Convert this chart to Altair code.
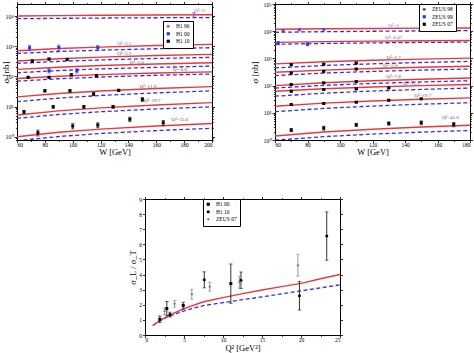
import altair as alt
import pandas as pd

FONT = "Liberation Serif"
RED = "#e8383d"
BLUE = "#3232dc"
PURPLE = "#a064c8"
LBLUE = "#6a5acd"
GRAY = "#555555"

# ---------------- Panel 1 (H1) ----------------
P1_W = [60, 90, 120, 160, 200]
P1_RED = [
    [10000, 10310, 10540, 10790, 10960],
    [708, 834, 935, 1050, 1148],
    [324, 384, 434, 489, 537],
    [170, 201, 228, 256, 282],
    [85.1, 101, 114, 129, 141],
    [20.9, 27.2, 32.8, 39.5, 45.7],
    [5.25, 7.21, 9.04, 11.3, 13.5],
    [1.0, 1.41, 1.79, 2.28, 2.75],
]
P1_BLUE = [
    [8130, 8380, 8570, 8770, 8910],
    [575, 667, 740, 822, 891],
    [269, 314, 351, 392, 427],
    [132, 156, 177, 199, 219],
    [69.2, 83.4, 95.1, 109, 120],
    [14.5, 19.1, 23.3, 28.4, 33.1],
    [4.07, 5.47, 6.75, 8.32, 9.77],
    [0.74, 1.02, 1.28, 1.60, 1.91],
]
P1_LABELS = ["Q²=0", "Q²=2.5", "Q²=3.3", "Q²=5.0", "Q²=6.6", "Q²=11.9", "Q²=19.7", "Q²=35.6"]
P1_LABEL_W = [191, 137, 137, 146, 177, 154, 157, 177]
P1_LABEL_SIGMA = [15700, 1260, 590, 295, 174, 47.6, 16.4, 3.86]

P1_SETS = ["H1 96", "H1 00", "H1 10"]
P1_H196_W = [187]
P1_H196_S = [11500]
P1_H196_E = [1800]
P1_H100_W = [69, 90, 118, 83, 103]
P1_H100_S = [890, 910, 890, 154, 154]
P1_H100_E = [180, 180, 180, 25, 25]
P1_H110_W = [71, 83, 96, 68, 83, 99, 117, 80, 98, 115, 133, 65, 86, 108, 129, 150, 75, 100, 118, 141, 165]
P1_H110_S = [322, 375, 365, 93, 93, 113, 105, 33.3, 33.3, 26, 34.5, 6.7, 9.8, 9.8, 9.8, 17.3, 1.36, 2.26, 2.44, 3.8, 2.9]
P1_H110_E = [30, 30, 30, 8, 8, 9, 9, 3, 3, 3, 3, 0.8, 1, 1, 1, 2.5, 0.3, 0.45, 0.45, 0.65, 0.55]

# ---------------- Panel 2 (ZEUS) ----------------
P2_W = [60, 90, 120, 150, 180]
P2_RED = [
    [11750, 12250, 12640, 12940, 13180],
    [3890, 4130, 4310, 4450, 4570],
    [631, 754, 857, 944, 1023],
    [309, 372, 425, 471, 513],
    [100, 127, 150, 171, 191],
    [61.7, 76.2, 88.7, 99.7, 110],
    [17.4, 22.6, 27.3, 31.5, 35.5],
    [1.41, 1.97, 2.49, 2.99, 3.47],
]
P2_BLUE = [
    [9120, 9590, 9950, 10230, 10470],
    [3310, 3550, 3720, 3860, 3980],
    [447, 548, 632, 708, 776],
    [234, 288, 332, 372, 407],
    [81.3, 102, 120, 136, 151],
    [40.7, 52.6, 63, 72.4, 81.3],
    [11.0, 14.5, 17.7, 20.7, 23.4],
    [0.98, 1.33, 1.65, 1.95, 2.24],
]
P2_LABELS = ["Q²=0", "Q²=0.47", "Q²=2.7", "Q²=5.0", "Q²=7.8", "Q²=11.9", "Q²=19.7", "Q²=41.0"]
P2_LABEL_W = [133, 133, 133, 131, 133, 144, 151, 168]
P2_LABEL_SIGMA = [17400, 6150, 1130, 550, 235, 120, 43.5, 6.8]

P2_SETS = ["ZEUS 98", "ZEUS 99", "ZEUS 07"]
P2_Z98_W = [65, 75, 90]
P2_Z98_S = [10500, 11200, 11800]
P2_Z98_E = [900, 900, 900]
P2_Z99_W = [62, 80]
P2_Z99_S = [3630, 3330]
P2_Z99_E = [450, 400]
P2_Z07_W = [70, 90, 110, 70, 90, 110, 70, 90, 110, 70, 90, 110, 130,
            70, 90, 110, 130, 150, 70, 90, 110, 130, 150, 170]
P2_Z07_S = [589, 617, 676, 290, 334, 407, 109, 126, 140, 62, 71.5, 75.5, 82,
            20.1, 21.9, 24.6, 29, 32.6, 2.32, 2.75, 3.64, 4.07, 4.31, 3.74]
P2_Z07_E = [35, 35, 40, 18, 20, 25, 7, 8, 9, 4, 4.5, 5, 5,
            1.3, 1.4, 1.6, 1.9, 2.1, 0.3, 0.45, 0.5, 0.55, 0.7, 0.7]

# ---------------- Panel 3 (sigma_L / sigma_T) ----------------
P3_Q2 = [1, 2, 3, 4, 5, 7.5, 10, 12.5, 15, 17.5, 20, 22.5, 25]
P3_RED = [0.63, 0.98, 1.27, 1.52, 1.75, 2.2, 2.47, 2.74, 2.98, 3.2, 3.42, 3.72, 4.0]
P3_BLUE = [0.63, 0.97, 1.22, 1.42, 1.6, 1.95, 2.14, 2.34, 2.52, 2.72, 2.92, 3.12, 3.32]
P3_SETS = ["H1 00", "H1 10", "ZEUS 07"]
P3_H100_Q = [1.9, 2.8, 4.9, 11.0]
P3_H100_R = [1.04, 1.75, 1.95, 3.4]
P3_H100_E = [0.22, 0.47, 0.22, 1.3]
P3_H110_Q = [3.2, 7.6, 12.3, 19.8, 23.3]
P3_H110_R = [1.35, 3.65, 3.62, 2.6, 6.55]
P3_H110_E = [0.16, 0.53, 0.55, 0.95, 1.6]
P3_Z07_Q = [2.5, 3.8, 6.0, 8.3, 12.1, 19.6]
P3_Z07_R = [1.57, 2.06, 2.7, 3.2, 3.5, 4.62]
P3_Z07_E = [0.22, 0.22, 0.33, 0.3, 0.4, 0.72]


def curves_df(xs, series):
    rows = []
    for i, ys in enumerate(series):
        for x, y in zip(xs, ys):
            rows.append({"x": x, "y": y, "curve": i})
    return pd.DataFrame(rows)


def points_df(xs, ys, es, name):
    return pd.DataFrame({
        "x": xs, "y": ys,
        "lo": [y - e for y, e in zip(ys, es)],
        "hi": [y + e for y, e in zip(ys, es)],
        "set": name,
    })


def log_ticks(lo, hi):
    vals = []
    for e in range(-1, 6):
        for m in range(1, 10):
            v = m * 10 ** e
            if lo <= v <= hi:
                vals.append(v)
    return vals


DEC_TEST = "abs(log(datum.value)/LN10 - round(log(datum.value)/LN10)) < 0.001"
SUP = "['⁰','¹','²','³','⁴','⁵']"


def log_axis(title, title_x, lo, hi):
    return alt.Axis(
        title=title, values=log_ticks(lo, hi),
        labelExpr=f"({DEC_TEST}) ? ('10' + {SUP}[round(log(datum.value)/LN10)]) : ''",
        tickSize={"condition": {"test": DEC_TEST, "value": 3}, "value": 1.6},
        labelOverlap=False, labelPadding=1, titleX=title_x, titleBaseline="middle",
        titleAngle=-90,
    )


def log_axis_right(lo, hi):
    return alt.Axis(
        orient="right", title=None, labels=False, values=log_ticks(lo, hi),
        tickSize={"condition": {"test": DEC_TEST, "value": 2.5}, "value": 1.3},
    )


def x_axis(title, values, major, title_y):
    test = f"datum.value % {major} == 0"
    return alt.Axis(
        title=title, values=values,
        labelExpr=f"({test}) ? datum.label : ''",
        tickSize={"condition": {"test": test, "value": 2.5}, "value": 1.4},
        labelOverlap=False, labelPadding=0, titleY=title_y, titleBaseline="middle",
        format="d", labelBaseline="top", labelFontSize=5.5, titleFontSize=8.5,
    )


def x_axis_top(values, major):
    test = f"datum.value % {major} == 0"
    return alt.Axis(
        orient="top", title=None, labels=False, values=values,
        tickSize={"condition": {"test": test, "value": 2.5}, "value": 1.3},
    )


def build_panel(xscale, xaxis, xaxis_top, yscale, yaxis, yaxis_right, red_df, blue_df,
                pt_dfs, sets, colors, shapes, legend, label_groups, red_w=1.4):
    Xm = alt.X("x:Q", scale=xscale, axis=xaxis)
    Ym = alt.Y("y:Q", scale=yscale, axis=yaxis)
    Xt = alt.X("x:Q", scale=xscale, axis=xaxis_top)
    Yr = alt.Y("y:Q", scale=yscale, axis=yaxis_right)
    X = alt.X("x:Q", scale=xscale, axis=None)
    Y = alt.Y("y:Q", scale=yscale, axis=None)
    Ylo = alt.Y("lo:Q", scale=yscale, axis=None)
    Yhi = alt.Y("hi:Q", scale=yscale, axis=None)
    layers = [
        alt.Chart(blue_df).mark_line(color=BLUE, strokeDash=[4, 2.5], strokeWidth=1.3, clip=True)
        .encode(x=Xm, y=Ym, detail="curve:N"),
        alt.Chart(red_df).mark_line(color=RED, strokeWidth=red_w, clip=True)
        .encode(x=Xt, y=Yr, detail="curve:N"),
    ]
    for df, col in zip(pt_dfs, colors):
        layers.append(alt.Chart(df).mark_rule(color=col, strokeWidth=0.8)
                      .encode(x=X, y=Ylo, y2="hi:Q"))
        layers.append(alt.Chart(df).mark_tick(color=col, orient="horizontal", size=3.5, thickness=0.8)
                      .encode(x=X, y=Ylo))
        layers.append(alt.Chart(df).mark_tick(color=col, orient="horizontal", size=3.5, thickness=0.8)
                      .encode(x=X, y=Yhi))
    allpts = pd.concat(pt_dfs, ignore_index=True)
    layers.append(
        alt.Chart(allpts).mark_point(filled=True, size=9, opacity=1)
        .encode(
            x=X, y=Y,
            color=alt.Color("set:N", scale=alt.Scale(domain=sets, range=colors), legend=legend),
            shape=alt.Shape("set:N", scale=alt.Scale(domain=sets, range=shapes), legend=legend),
        )
    )
    for ldf, col in label_groups:
        layers.append(alt.Chart(ldf).mark_text(font=FONT, fontSize=5, color=col, align="center",
                                               baseline="middle")
                      .encode(x=X, y=Y, text="label:N"))
    return (alt.layer(*layers).resolve_axis(x="independent", y="independent")
            .properties(width=195, height=136))


def make_legend(lx, ly):
    return alt.Legend(
        title=None, orient="none", legendX=lx, legendY=ly, strokeColor="black",
        fillColor="white", padding=2.5, labelFont=FONT, labelFontSize=5.5, symbolSize=10,
        rowPadding=0.5, labelOffset=5, symbolStrokeWidth=0, cornerRadius=0,
    )


def labels_df(xs, ys, texts):
    return pd.DataFrame({"x": xs, "y": ys, "label": texts})


# Panel 1
P1_XT = list(range(60, 201, 10))
p1_lab = labels_df(P1_LABEL_W, P1_LABEL_SIGMA, P1_LABELS)
p1 = build_panel(
    alt.Scale(domain=[60, 200], nice=False, zero=False),
    x_axis("W [GeV]", P1_XT, 20, 11.5), x_axis_top(P1_XT, 20),
    alt.Scale(type="log", domain=[0.78, 25000], nice=False),
    log_axis("σ [nb]", -12, 0.78, 25000), log_axis_right(0.78, 25000),
    curves_df(P1_W, P1_RED), curves_df(P1_W, P1_BLUE),
    [points_df(P1_H196_W, P1_H196_S, P1_H196_E, "H1 96"),
     points_df(P1_H100_W, P1_H100_S, P1_H100_E, "H1 00"),
     points_df(P1_H110_W, P1_H110_S, P1_H110_E, "H1 10")],
    P1_SETS, [PURPLE, BLUE, "black"], ["circle", "square", "square"],
    make_legend(146, 17),
    [(p1_lab.iloc[:1], PURPLE), (p1_lab.iloc[1:2], LBLUE), (p1_lab.iloc[2:], GRAY)],
)

# Panel 2
P2_XT = list(range(60, 181, 10))
p2_lab = labels_df(P2_LABEL_W, P2_LABEL_SIGMA, P2_LABELS)
p2 = build_panel(
    alt.Scale(domain=[60, 180], nice=False, zero=False),
    x_axis("W [GeV]", P2_XT, 20, 11.5), x_axis_top(P2_XT, 20),
    alt.Scale(type="log", domain=[1, 100000], nice=False),
    log_axis("σ [nb]", -21, 1, 100000), log_axis_right(1, 100000),
    curves_df(P2_W, P2_RED), curves_df(P2_W, P2_BLUE),
    [points_df(P2_Z98_W, P2_Z98_S, P2_Z98_E, "ZEUS 98"),
     points_df(P2_Z99_W, P2_Z99_S, P2_Z99_E, "ZEUS 99"),
     points_df(P2_Z07_W, P2_Z07_S, P2_Z07_E, "ZEUS 07")],
    P2_SETS, ["#5050b8", BLUE, "black"], ["circle", "square", "square"],
    make_legend(144, 0),
    [(p2_lab.iloc[:1], PURPLE), (p2_lab.iloc[1:2], LBLUE), (p2_lab.iloc[2:], GRAY)],
)

# Panel 3
P3_XT = [v * 2.5 for v in range(0, 11)]
p3 = build_panel(
    alt.Scale(domain=[0, 25], nice=False, zero=False),
    x_axis("Q² [GeV²]", P3_XT, 5, 12.5), x_axis_top(P3_XT, 5),
    alt.Scale(domain=[0, 9], nice=False, zero=False),
    alt.Axis(title="σ_L / σ_T", values=list(range(0, 10)), tickSize=2.5, labelPadding=1,
             titleX=-13, titleBaseline="middle", labelFontSize=5.5, titleFontSize=8.5),
    alt.Axis(orient="right", title=None, labels=False, values=list(range(0, 10)), tickSize=2.5),
    pd.DataFrame({"x": P3_Q2, "y": P3_RED, "curve": 0}),
    pd.DataFrame({"x": P3_Q2, "y": P3_BLUE, "curve": 0}),
    [points_df(P3_H100_Q, P3_H100_R, P3_H100_E, "H1 00"),
     points_df(P3_H110_Q, P3_H110_R, P3_H110_E, "H1 10"),
     points_df(P3_Z07_Q, P3_Z07_R, P3_Z07_E, "ZEUS 07")],
    P3_SETS, ["black", "black", "#808080"], ["square", "circle", "diamond"],
    make_legend(58, 0),
    [],
)

spacer = (
    alt.Chart(pd.DataFrame({"x": [0]}))
    .mark_point(opacity=0)
    .encode(x=alt.X("x:Q", axis=None), y=alt.Y("x:Q", axis=None))
    .properties(width=110, height=10, view=alt.ViewBackground(stroke=None))
)

top = alt.hconcat(p1, p2, spacing=33).resolve_scale(color="independent", shape="independent")
bottom = alt.hconcat(spacer, p3, spacing=0).resolve_scale(color="independent", shape="independent")
chart = (
    alt.vconcat(top, bottom, spacing=38)
    .resolve_scale(color="independent", shape="independent")
    .properties(padding={"left": 0, "top": 0, "right": 0, "bottom": 0})
    .configure_view(stroke="black", strokeWidth=1)
    .configure_axis(labelFont=FONT, titleFont=FONT, labelFontSize=6, titleFontSize=9,
                    domain=False, tickColor="black", labelColor="black", titleColor="black",
                    grid=False, titleFontWeight="normal", tickWidth=0.8)
)

chart.save("out.html", embed_options={"renderer": "svg", "actions": False})
